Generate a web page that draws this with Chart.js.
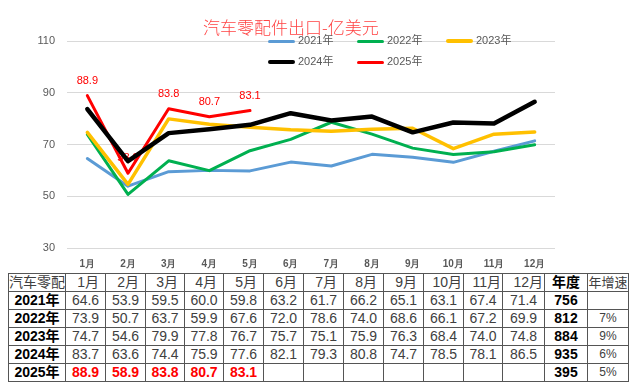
<!DOCTYPE html>
<html>
<head>
<meta charset="utf-8">
<script src="https://cdn.jsdelivr.net/npm/chart.js@4.4.1/dist/chart.umd.min.js"></script>
<style>
body { margin: 0; background: #fff; width: 637px; height: 391px; overflow: hidden; position: relative; font-family: "Liberation Sans", "Noto Sans CJK SC", sans-serif; }
canvas { position: absolute; left: 0; top: 0; }
#title { position: absolute; left: 203px; top: 14px; font: 300 17px "Noto Sans CJK SC"; color: #ff4444; white-space: nowrap; }
.li { position: absolute; font: 11px "Liberation Sans", "Noto Sans CJK SC"; color: #595959; white-space: nowrap; line-height: 14px; }
.li i { display: inline-block; width: 27px; vertical-align: middle; margin-right: 3px; border-radius: 2px; }
table { position: absolute; left: 8px; top: 273px; border-collapse: collapse; table-layout: fixed; width: 620px; }
td { height: 17px; padding: 0; border: 1px solid #555; font-size: 14px; color: #404040; text-align: center; overflow: hidden; white-space: nowrap; line-height: 17px; }
td.rl { color: #000; font-weight: bold; }
td.hd { text-align: right; padding-right: 6px; }
td.hd2 { text-align: right; padding-right: 1px; }
td.tot { color: #000; font-weight: bold; }
td.gr { font-size: 12px; }
td.red { color: #ff0000; font-weight: bold; }
</style>
</head>
<body>
<canvas id="chart" width="637" height="270"></canvas>
<div id="title">汽车零配件出口-亿美元</div>
<div id="legend"></div>
<table id="tbl"></table>
<script>
const months = ['1月', '2月', '3月', '4月', '5月', '6月', '7月', '8月', '9月', '10月', '11月', '12月'];
const years = ['2021年', '2022年', '2023年', '2024年', '2025年'];
const v2021 = [64.6, 53.9, 59.5, 60.0, 59.8, 63.2, 61.7, 66.2, 65.1, 63.1, 67.4, 71.4];
const v2022 = [73.9, 50.7, 63.7, 59.9, 67.6, 72.0, 78.6, 74.0, 68.6, 66.1, 67.2, 69.9];
const v2023 = [74.7, 54.6, 79.9, 77.8, 76.7, 75.7, 75.1, 75.9, 76.3, 68.4, 74.0, 74.8];
const v2024 = [83.7, 63.6, 74.4, 75.9, 77.6, 82.1, 79.3, 80.8, 74.7, 78.5, 78.1, 86.5];
const v2025 = [88.9, 58.9, 83.8, 80.7, 83.1];
const annual = [756, 812, 884, 935, 395];
const growth = ['', '7%', '9%', '6%', '5%'];
const yTicks = [30, 50, 70, 90, 110];

const colors = ['#5b9bd5', '#00b050', '#ffc000', '#000000', '#ff0000'];
const widths = [3, 3, 3.5, 4.5, 3];
const orders = [5, 4, 3, 1, 2];
const series = [v2021, v2022, v2023, v2024, v2025];

// red value labels on 2025, drawn right after that line
const redLabels = {
    id: 'redLabels',
    afterDatasetDraw(chart, args) {
        if (chart.data.datasets[args.index].label !== '2025年') return;
        const ctx = chart.ctx;
        ctx.save();
        ctx.font = '11px "Liberation Sans"';
        ctx.fillStyle = '#ff0000';
        ctx.textAlign = 'center';
        ctx.textBaseline = 'middle';
        args.meta.data.forEach((p, i) => ctx.fillText(v2025[i].toFixed(1), p.x, p.y - 15));
        ctx.restore();
    }
};

const chart = new Chart(document.getElementById('chart'), {
    type: 'line',
    data: {
        labels: months,
        datasets: years.map((y, i) => ({
            label: y,
            data: series[i],
            borderColor: colors[i],
            backgroundColor: colors[i],
            borderWidth: widths[i],
            order: orders[i],
            fill: false
        }))
    },
    options: {
        responsive: false,
        animation: false,
        layout: { padding: { top: 41, right: 82, left: 0, bottom: 0 } },
        plugins: { legend: { display: false }, tooltip: { enabled: false } },
        elements: {
            point: { radius: 0 },
            line: { tension: 0, borderCapStyle: 'round', borderJoinStyle: 'round' }
        },
        scales: {
            x: {
                offset: true,
                grid: { display: false },
                border: { display: false },
                ticks: { color: '#595959', font: { size: 10, weight: 'bold' }, padding: 2, maxRotation: 0 },
                afterFit(s) { s.height = 22; }
            },
            y: {
                min: 30,
                max: 110,
                afterBuildTicks(s) { s.ticks = yTicks.map(v => ({ value: v })); },
                grid: { color: '#d9d9d9', drawTicks: false },
                border: { display: false },
                ticks: { color: '#595959', font: { size: 11 }, padding: 12 },
                afterFit(s) { s.width = 67; }
            }
        }
    },
    plugins: [redLabels]
});

// legend in html, 3 per row
const legend = document.getElementById('legend');
chart.data.datasets.forEach((ds, i) => {
    const d = document.createElement('div');
    d.className = 'li';
    d.style.left = (268 + (i % 3) * 89) + 'px';
    d.style.top = (33 + Math.floor(i / 3) * 21) + 'px';
    d.innerHTML = `<i style="height:${ds.borderWidth}px;background:${ds.borderColor}"></i>${ds.label}`;
    legend.appendChild(d);
});

// data table
const colW = [57, 40, 40, 39, 39, 40, 40, 40, 40, 40, 40, 39, 42, 43, 41];
let html = '<colgroup>' + colW.map(w => `<col style="width:${w}px">`).join('') + '</colgroup>';
html += '<tr><td style="text-align:left">汽车零配件</td>';
months.forEach((m, i) => { html += `<td class="${i < 9 ? 'hd' : 'hd2'}">${m}</td>`; });
html += '<td class="tot">年度</td><td style="font-size:13px">年增速</td></tr>';
years.forEach((y, r) => {
    html += `<tr><td class="rl">${y}</td>`;
    months.forEach((m, i) => {
        const v = series[r][i];
        html += `<td class="${r === 4 ? 'red' : ''}">${v === undefined ? '' : v.toFixed(1)}</td>`;
    });
    html += `<td class="tot">${annual[r]}</td><td class="gr">${growth[r]}</td></tr>`;
});
document.getElementById('tbl').innerHTML = html;
</script>
</body>
</html>
